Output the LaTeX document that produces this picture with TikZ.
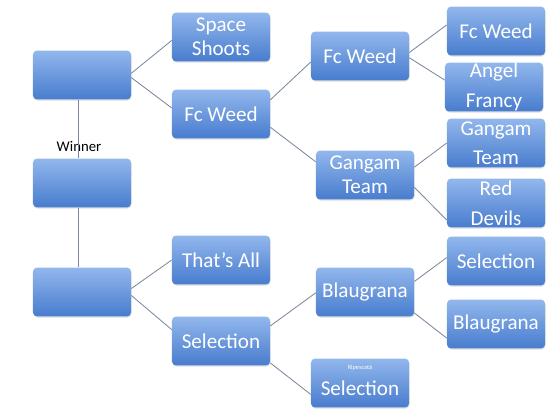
\documentclass[tikz,border=0pt]{standalone}
\usepackage{fontspec}
\setmainfont{Carlito}
\usepackage{tikz}
\usetikzlibrary{shadows}
\definecolor{boxtop}{RGB}{146,183,236}
\definecolor{boxbot}{RGB}{72,124,206}
\definecolor{linkgray}{RGB}{122,136,158}

\begin{document}
\begin{tikzpicture}[x=0.025cm,y=-0.025cm,
  team/.style={rectangle,rounded corners=0.1cm,top color=boxtop,bottom color=boxbot,
    minimum width=2.45cm,minimum height=1.22cm,inner sep=0pt,align=center,text=white,
    font=\fontsize{15}{17}\selectfont,
    drop shadow={opacity=0.25,shadow xshift=0.4pt,shadow yshift=-0.8pt}},
  loose/.style={font=\fontsize{15}{21}\selectfont},
  link/.style={draw=linkgray,line width=0.6pt}]
  \useasboundingbox (0,0) rectangle (560,420);
  \node[team] (l1) at (82,75) {};
  \node[team] (l2) at (82,183) {};
  \node[team] (l3) at (82,292) {};
  \node[team] (ss) at (221,37) {Space\\Shoots};
  \node[team] (fw2) at (221,114) {Fc Weed};
  \node[team] (ta) at (221,260) {That’s All};
  \node[team] (sel2) at (221,341) {Selection};
  \node[team] (fw3) at (360,56) {Fc Weed};
  \node[team] (gt3) at (365,175) {Gangam\\Team};
  \node[team] (bl3) at (365,292) {Blaugrana};
  \node[team] (rip) at (360,383) {};
  \node[text=white,font=\fontsize{15}{17}\selectfont,inner sep=0pt] (ripsel) at (360,388) {Selection};
  \node[text=white,font=\fontsize{4.5}{5}\selectfont,inner sep=0pt] (riptag) at (360,368) {Ripescatà};
  \node[team] (fw4) at (496,31) {Fc Weed};
  \node[team,loose] (af) at (494,87) {Angel\\Francy};
  \node[team,loose] (gt4) at (496,143) {Gangam\\Team};
  \node[team,loose] (rd) at (496,203) {Red\\Devils};
  \node[team] (sel4) at (496,261) {Selection};
  \node[team] (bl4) at (496,324) {Blaugrana};
  \node[font=\fontsize{10.5}{12}\selectfont,inner sep=0pt] (winner) at (79,146) {Winner};
  \draw[link] (l1.261) -- (l2.99);
  \draw[link] (l2.261) -- (l3.99);
  \foreach \a/\b in {l1.2/ss.184, l1.-3/fw2.173, l3.4/ta.180, l3.-4/sel2.167,
    fw2.16/fw3.187, fw2.-15/gt3.165, sel2.17/bl3.181, sel2.-24/rip.193,
    fw3.4/fw4.173, fw3.-2/af.172, gt3.9/gt4.180, gt3.-14/rd.199,
    bl3.12/sel4.176, bl3.-23/bl4.196}
    \draw[link] (\a) -- (\b);
\end{tikzpicture}
\end{document}
